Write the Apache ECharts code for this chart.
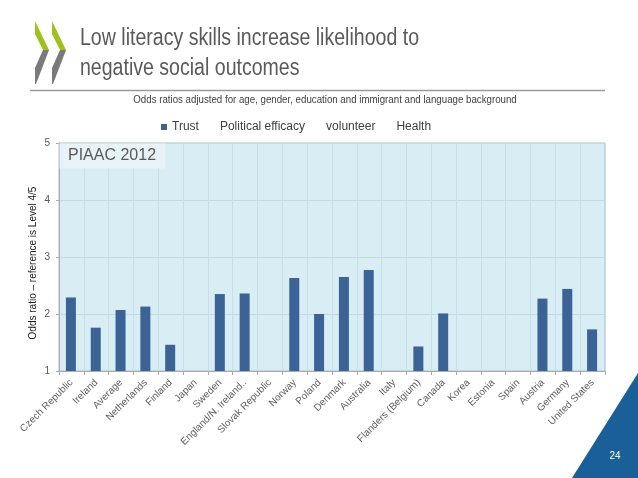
<!DOCTYPE html>
<html>
<head>
<meta charset="utf-8">
<script src="https://cdn.jsdelivr.net/npm/echarts@6/dist/echarts.min.js"></script>
<style>
html,body{margin:0;padding:0;background:#fff;}
#chart{width:638px;height:478px;}
</style>
</head>
<body>
<div id="chart"></div>
<script>
var categories = ['Czech Republic','Ireland','Average','Netherlands','Finland','Japan','Sweden','England/N. Ireland..','Slovak Republic','Norway','Poland','Denmark','Australia','Italy','Flanders (Belgium)','Canada','Korea','Estonia','Spain','Austria','Germany','United States'];
var trust = [2.29, 1.76, 2.07, 2.13, 1.46, null, 2.35, 2.36, null, 2.63, 2.00, 2.65, 2.77, null, 1.43, 2.01, null, null, null, 2.27, 2.44, 1.73];
var politicalEfficacy = [];
var volunteer = [];
var health = [];
var yTicks = [1, 2, 3, 4, 5];
var yAxisTitle = 'Odds ratio \u2013 reference is Level 4/5';

var FONT = 'Arial, "Liberation Sans", sans-serif';
var chart = echarts.init(document.getElementById('chart'));
var option = {
  backgroundColor: '#ffffff',
  animation: false,
  textStyle: { fontFamily: FONT },
  grid: {
    left: 59, right: 33, top: 143, bottom: 107,
    show: true, backgroundColor: '#d9edf4', borderColor: '#b3bcc0', borderWidth: 1,
    containLabel: false
  },
  legend: {
    left: 156, top: 116,
    itemWidth: 6, itemHeight: 6, itemGap: 10,
    icon: 'rect',
    textStyle: { fontSize: 12, color: '#404040', fontFamily: FONT },
    data: ['Trust', 'Political efficacy', 'volunteer', 'Health']
  },
  xAxis: {
    type: 'category',
    data: categories,
    boundaryGap: true,
    axisLine: { lineStyle: { color: '#a6aeb2' } },
    axisTick: { show: true, length: 4, interval: 0, lineStyle: { color: '#a6aeb2' } },
    splitLine: { show: true, interval: 0, lineStyle: { color: '#c9dde5' } },
    axisLabel: { interval: 0, rotate: 45, fontSize: 10, color: '#5f5f5f', margin: 10, fontFamily: FONT }
  },
  yAxis: {
    type: 'value',
    min: yTicks[0], max: yTicks[yTicks.length - 1], interval: 1,
    axisLine: { show: true, lineStyle: { color: '#a6aeb2' } },
    axisTick: { show: true, length: 3, lineStyle: { color: '#a6aeb2' } },
    splitLine: { show: true, lineStyle: { color: '#c5d7df' } },
    axisLabel: { fontSize: 10, color: '#595959', margin: 9, fontFamily: FONT }
  },
  series: [
    { name: 'Trust', type: 'bar', data: trust, barWidth: 10, itemStyle: { color: '#3b6396' } },
    { name: 'Political efficacy', type: 'bar', data: politicalEfficacy, itemStyle: { color: 'rgba(0,0,0,0)' } },
    { name: 'volunteer', type: 'bar', data: volunteer, itemStyle: { color: 'rgba(0,0,0,0)' } },
    { name: 'Health', type: 'bar', data: health, itemStyle: { color: 'rgba(0,0,0,0)' } }
  ],
  graphic: [
    // OECD chevrons
    { type: 'polygon', shape: { points: [[35,21],[49,50],[43,50],[35,34]] }, style: { fill: '#9bc21d' } },
    { type: 'polygon', shape: { points: [[43,50],[49,50],[36,84],[35,84],[35,68]] }, style: { fill: '#7a7a7a' } },
    { type: 'polygon', shape: { points: [[52,21],[66,50],[60,50],[52,34]] }, style: { fill: '#9bc21d' } },
    { type: 'polygon', shape: { points: [[60,50],[66,50],[53,84],[52,84],[52,68]] }, style: { fill: '#7a7a7a' } },
    // title
    { type: 'text', x: 80, y: 39, scaleX: 0.85, style: { text: 'Low literacy skills increase likelihood to', fill: '#5a5a5a', font: '23px ' + FONT, verticalAlign: 'middle', align: 'left' } },
    { type: 'text', x: 80, y: 69, scaleX: 0.85, style: { text: 'negative social outcomes', fill: '#5a5a5a', font: '23px ' + FONT, verticalAlign: 'middle', align: 'left' } },
    { type: 'line', shape: { x1: 30, y1: 90.5, x2: 605, y2: 90.5 }, style: { stroke: '#9a9a9a', lineWidth: 1.5 } },
    { type: 'text', x: 325, y: 100, scaleX: 0.97, style: { text: 'Odds ratios adjusted for age, gender, education and immigrant and language background', font: '10px ' + FONT, fill: '#404040', align: 'center', verticalAlign: 'middle' } },
    // y axis title
    { type: 'text', x: 33, y: 263, rotation: Math.PI / 2, style: { text: yAxisTitle, font: '10px ' + FONT, fill: '#1a1a1a', align: 'center', verticalAlign: 'middle' } },
    // PIAAC box
    { type: 'rect', shape: { x: 59.5, y: 143.5, width: 106, height: 25 }, style: { fill: '#e7f3f8' }, z: 10 },
    { type: 'text', x: 68, y: 156, z: 11, style: { text: 'PIAAC 2012', font: '16px ' + FONT, fill: '#595959', verticalAlign: 'middle', align: 'left' } },
    // page corner
    { type: 'polygon', shape: { points: [[638,373],[638,478],[572,478]] }, style: { fill: '#1a5f98' } },
    { type: 'text', x: 615, y: 456, style: { text: '24', font: '10px ' + FONT, fill: '#ffffff', align: 'center', verticalAlign: 'middle' } }
  ]
};
chart.setOption(option);
</script>
</body>
</html>
